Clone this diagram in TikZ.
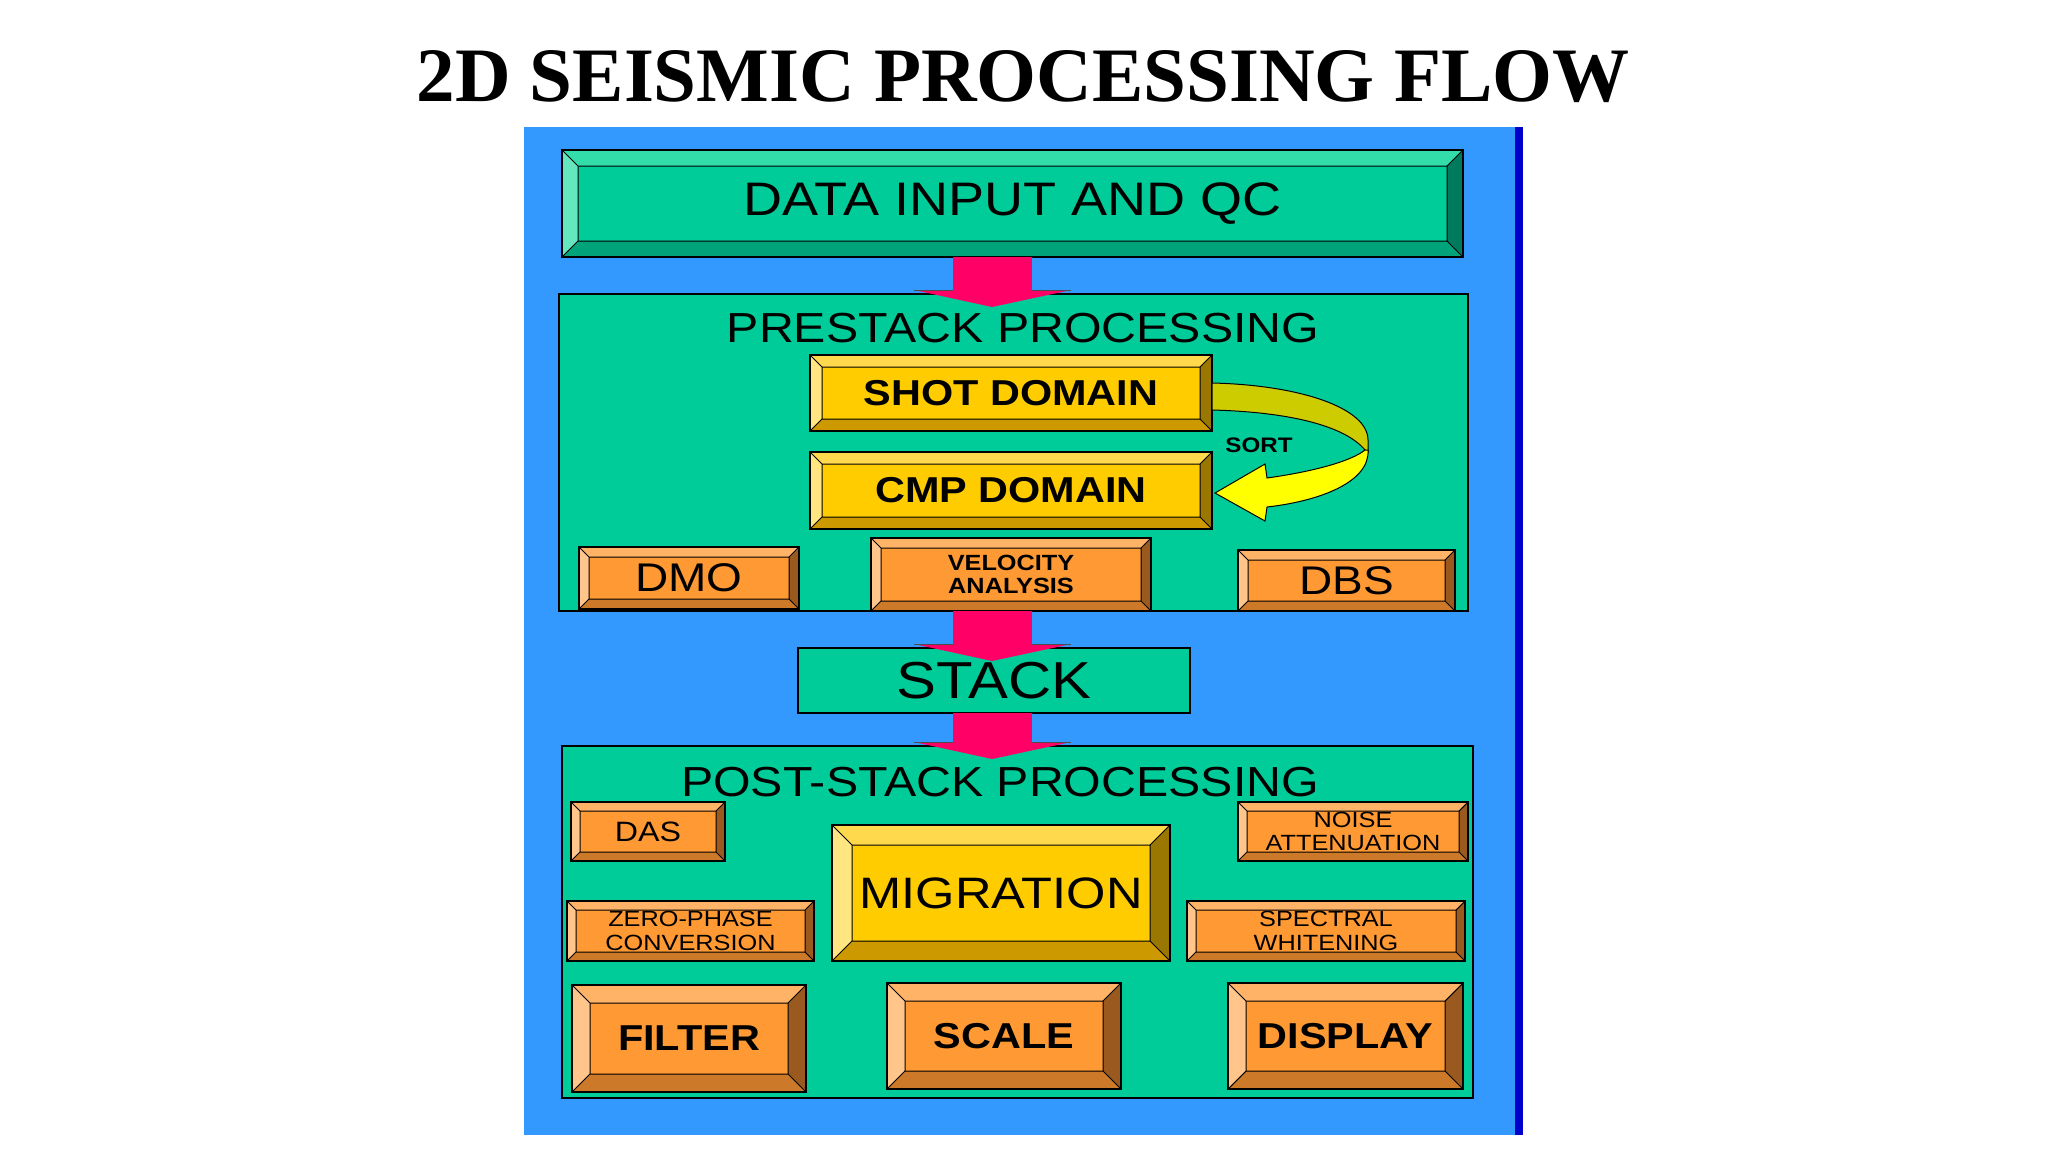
\documentclass[tikz,border=0pt]{standalone}
\usepackage{fontspec}
\setmainfont{Liberation Serif}
\newfontfamily\lab[FakeStretch=1.15]{Liberation Sans}
\usetikzlibrary{calc}
\definecolor{bgblue}{HTML}{3399FF}
\definecolor{barblue}{HTML}{0000CC}
\definecolor{teal}{HTML}{00CC99}
\definecolor{gtop}{HTML}{33DDAA}
\definecolor{gleft}{HTML}{66E6BF}
\definecolor{gright}{HTML}{007A5C}
\definecolor{gbot}{HTML}{00A37A}
\definecolor{yface}{HTML}{FFCC00}
\definecolor{ytop}{HTML}{FFD94D}
\definecolor{yleft}{HTML}{FFE680}
\definecolor{yright}{HTML}{997700}
\definecolor{ybot}{HTML}{CC9900}
\definecolor{oface}{HTML}{FF9933}
\definecolor{otop}{HTML}{FFB366}
\definecolor{oleft}{HTML}{FFC58A}
\definecolor{oright}{HTML}{99591F}
\definecolor{obot}{HTML}{CC7A29}
\definecolor{pinkc}{HTML}{FF0066}
\definecolor{olive}{HTML}{CCCC00}
\definecolor{brightyel}{HTML}{FFFF00}
\tikzset{
  boxbase/.style={draw=black,line width=0.6pt,inner sep=0pt,outer sep=0pt,align=center,text=black},
  bev/.style n args={6}{boxbase,fill=#1,path picture={
    \coordinate (pa) at (path picture bounding box.north west);
    \coordinate (pb) at (path picture bounding box.north east);
    \coordinate (pc) at (path picture bounding box.south east);
    \coordinate (pd) at (path picture bounding box.south west);
    \coordinate (qa) at ([shift={(#6,-#6)}]pa);
    \coordinate (qb) at ([shift={(-#6,-#6)}]pb);
    \coordinate (qc) at ([shift={(-#6,#6)}]pc);
    \coordinate (qd) at ([shift={(#6,#6)}]pd);
    \fill[#2] (pa) -- (pb) -- (qb) -- (qa) -- cycle;
    \fill[#3] (pa) -- (qa) -- (qd) -- (pd) -- cycle;
    \fill[#4] (pb) -- (pc) -- (qc) -- (qb) -- cycle;
    \fill[#5] (pd) -- (qd) -- (qc) -- (pc) -- cycle;
    \draw[black,line width=0.5pt] (qa) rectangle (qc) (pa) -- (qa) (pb) -- (qb) (pc) -- (qc) (pd) -- (qd);
  }},
  greenbev/.style={bev={teal}{gtop}{gleft}{gright}{gbot}{#1}},
  yelbev/.style={bev={yface}{ytop}{yleft}{yright}{ybot}{#1}},
  orabev/.style={bev={oface}{otop}{oleft}{oright}{obot}{#1}},
  panel/.style={boxbase,fill=teal},
  ptitle/.style={inner sep=0pt,font=\lab\fontsize{21}{25}\selectfont},
  smalltxt/.style={font=\lab\fontsize{11}{11.75}\selectfont},
  smallbold/.style={font=\lab\bfseries\fontsize{11}{11.75}\selectfont},
  bigbold/.style={font=\lab\bfseries\fontsize{18}{22}\selectfont},
  arrowfill/.style={fill=pinkc},
}
\newcommand\bx[7]{\node[#6,minimum width={(#4-#2)*0.5pt},minimum height={(#5-#3)*0.5pt}] (#1) at ({(#2+#4)/2},{(#3+#5)/2}) {#7};}
\newcommand\pinkarrow[2]{%
  \fill[arrowfill] (953,0 |- #1.south) rectangle ($(1032,0 |- #2.north)+(0,-3)$);
  \fill[arrowfill] ($(914,0 |- #2.north)+(0,-4)$) -- ($(1071,0 |- #2.north)+(0,-4)$) -- ($(992,0 |- #2.north)+(0,13)$) -- cycle;
  \draw[black!70,line width=0.5pt] ($(914,0 |- #2.north)+(0,-4)$) -- ($(953,0 |- #2.north)+(0,-4)$) ($(1032,0 |- #2.north)+(0,-4)$) -- ($(1071,0 |- #2.north)+(0,-4)$);
}
\begin{document}
\begin{tikzpicture}[x=0.5pt,y=-0.5pt]
\useasboundingbox[fill=white] (0,0) rectangle (2048,1152);
% title
\node[anchor=base,inner sep=0pt,font=\bfseries\fontsize{38.5}{44}\selectfont] (title) at (1023,101) {2D SEISMIC PROCESSING FLOW};
% background panel
\fill[bgblue] (524,127) rectangle (1515,1135);
\fill[barblue] (1515,127) rectangle (1523,1135);
% boxes
\bx{datain}{562}{150}{1463}{257}{greenbev=8pt,font=\lab\fontsize{23.5}{28}\selectfont}{DATA INPUT AND QC}
\bx{pre}{559}{294}{1468}{611}{panel}{}
\node[ptitle] (pretitle) at (1023,328) {PRESTACK PROCESSING};
\bx{shot}{810}{355}{1212}{431}{yelbev=6pt,bigbold}{SHOT DOMAIN}
\bx{cmp}{810}{452}{1212}{529}{yelbev=6pt,bigbold}{CMP DOMAIN}
\bx{dmo}{579}{547}{799}{609}{orabev=5pt,font=\lab\fontsize{20}{24}\selectfont}{DMO}
\bx{vel}{871}{538}{1151}{611}{orabev=5pt,smallbold}{VELOCITY\\ANALYSIS}
\bx{dbs}{1238}{550}{1455}{611}{orabev=5pt,font=\lab\fontsize{20}{24}\selectfont}{DBS}
\bx{stack}{798}{648}{1190}{713}{panel,font=\lab\fontsize{26}{30}\selectfont}{STACK}
\bx{post}{562}{746}{1473}{1098}{panel}{}
\node[ptitle] (posttitle) at (1000,782) {POST-STACK PROCESSING};
\bx{das}{571}{802}{725}{861}{orabev=4.5pt,font=\lab\fontsize{14}{17}\selectfont}{DAS}
\bx{noise}{1238}{802}{1468}{861}{orabev=4.5pt,smalltxt}{NOISE\\ATTENUATION}
\bx{mig}{832}{825}{1170}{961}{yelbev=10pt,font=\lab\fontsize{22}{26}\selectfont}{MIGRATION}
\bx{zero}{567}{901}{814}{961}{orabev=4.5pt,smalltxt}{ZERO-PHASE\\CONVERSION}
\bx{spec}{1187}{901}{1465}{961}{orabev=4.5pt,smalltxt}{SPECTRAL\\WHITENING}
\bx{filter}{572}{985}{806}{1092}{orabev=9pt,bigbold}{FILTER}
\bx{scale}{887}{983}{1121}{1089}{orabev=9pt,bigbold}{SCALE}
\bx{display}{1228}{983}{1463}{1089}{orabev=9pt,bigbold}{DISPLAY}
% pink flow arrows
\pinkarrow{datain}{pre}
\pinkarrow{pre}{stack}
\pinkarrow{stack}{post}
% sort arrow
\filldraw[fill=olive,draw=black,line width=0.5pt]
  ($(shot.east)+(0,-10)$) .. controls (1300,385) and (1368,408) .. (1368,440) -- (1368,452)
  -- (1365,450) .. controls (1345,426) and (1290,412) .. ($(shot.east)+(0,17)$) -- cycle;
\filldraw[fill=brightyel,draw=black,line width=0.5pt]
  (1368,450) .. controls (1370,482) and (1320,501) .. (1267,507) -- (1265,521)
  -- ($(cmp.east)+(3,2.5)$) -- (1265,464) -- (1267,478)
  .. controls (1310,472) and (1350,462) .. (1365,450) -- cycle;
\node[font=\lab\bfseries\fontsize{10.5}{12}\selectfont,inner sep=0pt] (sort) at (1259,445) {SORT};
\end{tikzpicture}
\end{document}
